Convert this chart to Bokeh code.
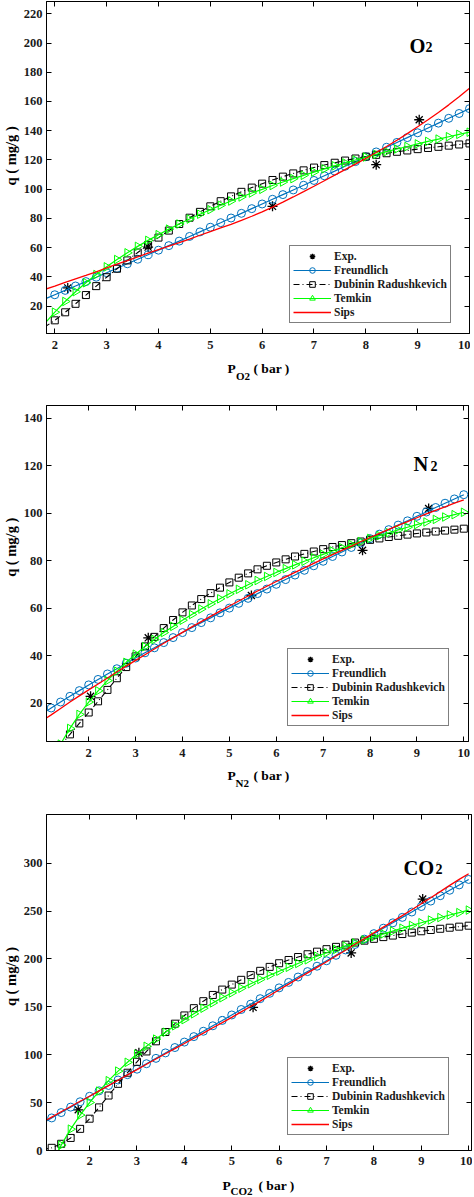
import math
from bokeh.plotting import figure
from bokeh.models import Range1d, LinearAxis, FixedTicker, Label, Legend, LegendItem
from bokeh.layouts import column, row
from bokeh.embed import file_html
from bokeh.resources import INLINE
from bokeh.core.properties import value

FONT = "Liberation Serif"
BLUE = "#0072BD"
GREEN = "#00FF00"
RED = "#FF0000"

# ---------------- data: O2 ----------------
x_o2 = [1.8, 2.0, 2.2, 2.4, 2.6, 2.8, 3.0, 3.2, 3.4, 3.6, 3.8, 4.0, 4.2, 4.4, 4.6, 4.8, 5.0, 5.2, 5.4, 5.6, 5.8,
        6.0, 6.2, 6.4, 6.6, 6.8, 7.0, 7.2, 7.4, 7.6, 7.8, 8.0, 8.2, 8.4, 8.6, 8.8, 9.0, 9.2, 9.4, 9.6, 9.8, 10.0]
exp_x_o2 = [2.25, 3.8, 6.2, 8.2, 9.03]
exp_y_o2 = [32.5, 60.4, 88.3, 116.8, 147.5]
freund_o2 = [24.8, 27.8, 30.8, 33.8, 36.8, 39.8, 42.9, 45.9, 49.0, 52.1, 55.2, 58.3, 61.4, 64.5, 67.7, 70.8, 74.0,
             77.1, 80.3, 83.5, 86.7, 89.9, 93.1, 96.3, 99.5, 102.7, 106.0, 109.2, 112.4, 115.7, 118.9, 122.2, 125.5,
             128.7, 132.0, 135.3, 138.6, 141.9, 145.2, 148.5, 151.8, 155.1]
dr_o2 = [5.6, 10.3, 15.8, 21.6, 27.6, 33.7, 39.8, 45.6, 51.3, 56.7, 61.9, 66.9, 71.7, 76.2, 80.5, 84.5, 88.3, 91.8,
         95.1, 98.2, 101.1, 103.8, 106.3, 108.6, 110.8, 112.9, 114.8, 116.5, 118.1, 119.6, 121.0, 122.3, 123.5,
         124.6, 125.6, 126.5, 127.4, 128.2, 129.0, 129.8, 130.6, 131.3]
temkin_o2 = [7.8, 15.9, 23.2, 29.9, 36.0, 41.6, 46.9, 51.9, 56.5, 60.9, 65.0, 68.9, 72.7, 76.2, 79.6, 82.9, 86.0,
             89.0, 91.9, 94.7, 97.4, 99.9, 102.5, 104.9, 107.2, 109.5, 111.7, 113.9, 116.0, 118.0, 120.0, 122.0,
             123.8, 125.7, 127.5, 129.2, 131.0, 132.7, 134.3, 135.9, 137.5, 139.0]
sips_o2 = [31.4, 33.7, 36.2, 38.6, 41.0, 43.5, 46.2, 48.7, 51.2, 53.7, 56.3, 58.7, 61.0, 63.4, 65.9, 68.5, 71.0,
           73.5, 76.0, 78.7, 81.5, 84.5, 87.8, 91.2, 94.7, 98.3, 102.0, 105.8, 109.6, 113.4, 117.2, 121.1, 125.1,
           129.2, 133.5, 138.0, 142.7, 147.5, 152.5, 157.7, 163.2, 169.0]

# ---------------- data: N2 ----------------
x_n2 = [1.0, 1.2, 1.4, 1.6, 1.8, 2.0, 2.2, 2.4, 2.6, 2.8, 3.0, 3.2, 3.4, 3.6, 3.8, 4.0, 4.2, 4.4, 4.6, 4.8, 5.0,
        5.2, 5.4, 5.6, 5.8, 6.0, 6.2, 6.4, 6.6, 6.8, 7.0, 7.2, 7.4, 7.6, 7.8, 8.0, 8.2, 8.4, 8.6, 8.8, 9.0, 9.2,
        9.4, 9.6, 9.8, 10.0]
exp_x_n2 = [2.04, 3.27, 5.47, 7.84, 9.25]
exp_y_n2 = [23.0, 47.6, 65.4, 84.4, 102.0]
freund_n2 = [15.5, 18.1, 20.6, 23.0, 25.4, 27.8, 30.1, 32.4, 34.6, 36.9, 39.1, 41.3, 43.4, 45.6, 47.7, 49.8, 51.9,
             54.0, 56.0, 58.1, 60.1, 62.1, 64.2, 66.2, 68.1, 70.1, 72.1, 74.0, 76.0, 77.9, 79.8, 81.8, 83.7, 85.6,
             87.5, 89.3, 91.2, 93.1, 95.0, 96.8, 98.7, 100.5, 102.4, 104.2, 106.0, 107.8]
dr_n2 = [-6.0, -2.0, 2.4, 7.0, 11.6, 16.2, 20.9, 25.7, 30.6, 35.3, 39.8, 44.0, 48.0, 51.7, 55.1, 58.3, 61.2, 63.9,
         66.4, 68.7, 70.9, 72.9, 74.7, 76.4, 77.9, 79.3, 80.6, 81.8, 82.9, 83.9, 84.9, 85.8, 86.6, 87.4, 88.1, 88.8,
         89.4, 90.0, 90.5, 91.0, 91.5, 91.9, 92.3, 92.7, 93.1, 93.5]
temkin_n2 = [-13.8, -4.7, 2.9, 9.5, 15.4, 20.6, 25.3, 29.6, 33.6, 37.3, 40.7, 43.9, 46.9, 49.8, 52.4, 55.0, 57.4,
             59.7, 61.9, 64.0, 66.1, 68.0, 69.9, 71.7, 73.4, 75.1, 76.7, 78.3, 79.8, 81.3, 82.7, 84.1, 85.5, 86.8,
             88.1, 89.4, 90.6, 91.8, 93.0, 94.1, 95.2, 96.3, 97.4, 98.4, 99.4, 100.4]
sips_n2 = [12.6, 15.2, 17.9, 20.6, 23.2, 25.7, 28.2, 30.7, 33.2, 35.7, 38.1, 40.5, 42.9, 45.3, 47.6, 49.9, 52.2,
           54.4, 56.6, 58.8, 61.0, 63.1, 65.2, 67.3, 69.3, 71.3, 73.2, 75.1, 77.0, 78.9, 80.8, 82.6, 84.4, 86.2,
           88.0, 89.8, 91.5, 93.2, 94.9, 96.5, 98.1, 99.7, 101.2, 102.7, 104.2, 105.6]

# ---------------- data: CO2 ----------------
x_co2 = [1.0, 1.2, 1.4, 1.6, 1.8, 2.0, 2.2, 2.4, 2.6, 2.8, 3.0, 3.2, 3.4, 3.6, 3.8, 4.0, 4.2, 4.4, 4.6, 4.8, 5.0,
         5.2, 5.4, 5.6, 5.8, 6.0, 6.2, 6.4, 6.6, 6.8, 7.0, 7.2, 7.4, 7.6, 7.8, 8.0, 8.2, 8.4, 8.6, 8.8, 9.0, 9.2,
         9.4, 9.6, 9.8, 10.0]
exp_x_co2 = [1.76, 3.04, 5.45, 7.52, 9.03]
exp_y_co2 = [42.5, 102.0, 149.5, 206.3, 262.5]
freund_co2 = [28.3, 34.0, 39.6, 45.3, 50.9, 56.6, 62.3, 67.9, 73.6, 79.2, 84.9, 90.6, 96.2, 101.9, 107.5, 113.2,
              118.9, 124.5, 130.2, 135.8, 141.5, 147.2, 152.8, 158.5, 164.1, 169.8, 175.5, 181.1, 186.8, 192.4,
              198.1, 203.8, 209.4, 215.1, 220.7, 226.4, 232.1, 237.7, 243.4, 249.0, 254.7, 260.4, 266.0, 271.7,
              277.3, 283.0]
dr_co2 = [0.8, 2.8, 7.0, 13.1, 22.6, 33.2, 45.0, 57.4, 69.6, 81.2, 92.6, 103.4, 114.0, 123.7, 132.4, 141.0, 148.6,
          155.9, 162.4, 168.0, 173.2, 178.2, 183.1, 187.6, 191.7, 195.5, 198.9, 202.0, 204.9, 207.6, 210.2, 212.6,
          214.9, 217.1, 219.1, 221.0, 222.8, 224.4, 226.0, 227.5, 228.9, 230.2, 231.5, 232.6, 233.7, 234.7]
temkin_co2 = [-36.4, -13.7, 5.6, 22.3, 37.0, 50.1, 62.0, 72.9, 82.9, 92.1, 100.7, 108.8, 116.3, 123.5, 130.2,
              136.6, 142.7, 148.5, 154.1, 159.4, 164.5, 169.4, 174.1, 178.6, 183.0, 187.2, 191.3, 195.3, 199.1,
              202.8, 206.5, 210.0, 213.4, 216.7, 220.0, 223.1, 226.2, 229.2, 232.1, 235.0, 237.8, 240.6, 243.2,
              245.9, 248.4, 251.0]
sips_co2 = [29.3, 34.9, 40.4, 45.9, 51.4, 56.6, 62.2, 67.8, 73.4, 78.9, 84.4, 90.0, 95.5, 101.0, 106.4, 111.7,
            117.2, 122.6, 128.1, 133.5, 139.0, 144.7, 150.3, 156.0, 161.8, 167.8, 173.7, 179.6, 185.5, 191.2,
            197.1, 203.1, 209.1, 215.3, 221.2, 227.2, 233.2, 239.2, 245.2, 251.3, 257.7, 263.9, 270.3, 276.8,
            283.1, 289.0]

x_ticks = [2, 3, 4, 5, 6, 7, 8, 9, 10]
y_ticks_o2 = [20, 40, 60, 80, 100, 120, 140, 160, 180, 200, 220]
y_ticks_n2 = [20, 40, 60, 80, 100, 120, 140]
y_ticks_co2 = [0, 50, 100, 150, 200, 250, 300]
legend_labels = ["Exp.", "Freundlich", "Dubinin Radushkevich", "Temkin", "Sips"]
y_label = "q ( mg/g )"
x_label_main = "P"
x_label_unit = "( bar )"


def style_axis(ax, ticks, show_labels=True):
    ax.ticker = FixedTicker(ticks=ticks)
    ax.major_tick_in = 5
    ax.major_tick_out = 0
    ax.minor_tick_in = 0
    ax.minor_tick_out = 0
    ax.axis_line_color = "black"
    ax.major_tick_line_color = "black"
    ax.axis_line_width = 1
    ax.major_label_text_font = FONT
    ax.major_label_text_font_style = "bold"
    if show_labels:
        ax.major_label_text_color = "#1a1a1a"
        ax.major_label_text_font_size = "12.5px"
    else:
        ax.major_label_text_color = None
        ax.major_label_text_font_size = "1px"
        ax.major_label_standoff = 0


def strip(width, height):
    s = figure(width=width, height=height, x_range=Range1d(0, width), y_range=Range1d(0, height),
               output_backend="svg", toolbar_location=None, tools="", min_border=0,
               x_axis_location=None, y_axis_location=None)
    s.grid.visible = False
    s.outline_line_color = None
    s.background_fill_color = "white"
    s.border_fill_color = "white"
    return s


def put(s, x, y, text, size, angle=0.0, align="left", baseline="alphabetic"):
    s.text(x=[x], y=[y], text=[text], text_font=value(FONT), text_font_style="bold",
           text_font_size=size, text_color="black", angle=angle, text_align=align, text_baseline=baseline)


def add_label(p, xr, yr, text, xo, yo, size):
    p.add_layout(Label(x=xr[0], y=yr[0], x_units="data", y_units="data", x_offset=xo, y_offset=yo,
                       text=text, text_font=FONT, text_font_style="bold", text_font_size=size,
                       text_color="black", text_align="left", text_baseline="alphabetic"))


def make_panel(x, ex, ey, fr, dr, tk, sp, xr, yr, yticks, width, height, b_top, b_bottom, b_left, b_right,
               x_standoff, gas, gas_pos, legend_pos):
    p = figure(width=width, height=height, x_range=Range1d(*xr), y_range=Range1d(*yr),
               output_backend="svg", toolbar_location=None, tools="",
               min_border_left=b_left, min_border_right=b_right, min_border_top=b_top,
               min_border_bottom=b_bottom)
    p.grid.visible = False
    p.outline_line_color = "black"
    p.outline_line_width = 1
    p.background_fill_color = "white"
    p.border_fill_color = "white"
    style_axis(p.xaxis[0], x_ticks)
    style_axis(p.yaxis[0], yticks)
    p.xaxis[0].major_label_standoff = x_standoff
    p.yaxis[0].major_label_standoff = 4
    top = LinearAxis()
    style_axis(top, x_ticks, show_labels=False)
    p.add_layout(top, "above")
    right = LinearAxis()
    style_axis(right, yticks, show_labels=False)
    p.add_layout(right, "right")

    m = slice(1, None)
    r_exp = p.scatter(ex, ey, marker="asterisk", size=10, line_color="black", line_width=1.3)
    r_fl = p.line(x, fr, line_color=BLUE, line_width=1.2)
    r_fm = p.scatter(x[m], fr[m], marker="circle", size=8, fill_color=None, line_color=BLUE, line_width=1)
    r_dl = p.line(x, dr, line_color="black", line_width=1.1, line_dash="6 3 1 3")
    r_dm = p.scatter(x[m], dr[m], marker="square", size=7, fill_color=None, line_color="black", line_width=1)
    r_tl = p.line(x, tk, line_color=GREEN, line_width=1.2)
    r_tm = p.scatter(x[m], tk[m], marker="triangle", size=8.5, angle=-math.pi / 2,
                     fill_color=None, line_color=GREEN, line_width=1)
    r_sl = p.line(x, sp, line_color=RED, line_width=1.3)

    items = [LegendItem(label=legend_labels[0], renderers=[r_exp]),
             LegendItem(label=legend_labels[1], renderers=[r_fl, r_fm]),
             LegendItem(label=legend_labels[2], renderers=[r_dl, r_dm]),
             LegendItem(label=legend_labels[3], renderers=[r_tl, r_tm]),
             LegendItem(label=legend_labels[4], renderers=[r_sl])]
    leg = Legend(items=items, location=legend_pos, orientation="vertical",
                 label_text_font=FONT, label_text_font_style="bold", label_text_font_size="11.5px",
                 label_text_color="#1a1a1a",
                 glyph_width=38, glyph_height=14, label_height=14, label_standoff=3,
                 spacing=0, padding=3, margin=0,
                 border_line_color="black", border_line_width=1,
                 background_fill_color="white", background_fill_alpha=1.0)
    p.add_layout(leg)

    add_label(p, xr, yr, gas, gas_pos[0], gas_pos[1], "20.5px")
    add_label(p, xr, yr, "2", gas_pos[2], gas_pos[3], "14px")
    return p


# ---- panel 1 (O2) ----
p1 = make_panel(x_o2, exp_x_o2, exp_y_o2, freund_o2, dr_o2, temkin_o2, sips_o2,
                (1.84, 10.0), (1.3, 228.4), y_ticks_o2, 450, 355, 1, 22, 26, 1, 7,
                "O", (363, 288, 379, 286.5), (243, 10))
yl1 = strip(20, 355)
put(yl1, 10, 355 - 165, y_label, "14.5px", angle=math.pi / 2, align="center", baseline="middle")
xl1 = strip(470, 43)
put(xl1, 227, 43 - 13, x_label_main, "13.5px")
put(xl1, 235.5, 43 - 20, "O2", "11px")
put(xl1, 253, 43 - 13, x_label_unit, "13.5px")

# ---- panel 2 (N2) ----
p2 = make_panel(x_n2, exp_x_n2, exp_y_n2, freund_n2, dr_n2, temkin_n2, sips_n2,
                (1.1, 10.1), (4.0, 145.3), y_ticks_n2, 450, 365, 7, 22, 26, 2, 7,
                "N", (367, 278, 384, 276), (241, 15))
yl2 = strip(20, 365)
put(yl2, 10, 365 - 154, y_label, "14.5px", angle=math.pi / 2, align="center", baseline="middle")
xl2 = strip(470, 45)
put(xl2, 227, 45 - 12, x_label_main, "13.5px")
put(xl2, 235, 45 - 19, "N2", "11px")
put(xl2, 253, 45 - 12, x_label_unit, "13.5px")

# ---- panel 3 (CO2) ----
p3 = make_panel(x_co2, exp_x_co2, exp_y_co2, freund_co2, dr_co2, temkin_co2, sips_co2,
                (1.09, 10.06), (0.0, 350.8), y_ticks_co2, 452, 363, 6, 21, 23, 1, 6,
                "CO", (357, 283, 389, 282), (241, 15))
yl3 = strip(20, 363)
put(yl3, 10, 363 - 175, y_label, "14.5px", angle=math.pi / 2, align="center", baseline="middle")
xl3 = strip(472, 25)
put(xl3, 222, 11, x_label_main, "13.5px")
put(xl3, 230, 6, "CO2", "11px")
put(xl3, 258, 11, x_label_unit, "13.5px")

layout = column(row(yl1, p1, spacing=0), xl1,
                row(yl2, p2, spacing=0), xl2,
                row(yl3, p3, spacing=0), xl3, spacing=0)
open("out.html", "w").write(file_html(layout, INLINE))
